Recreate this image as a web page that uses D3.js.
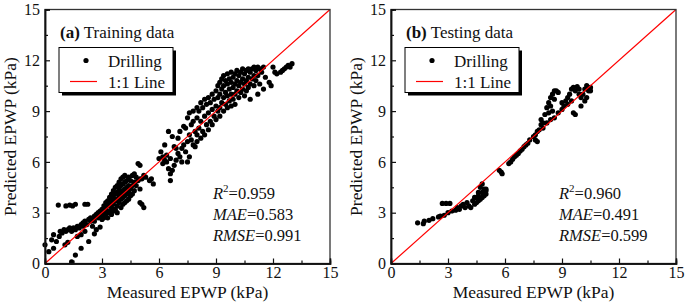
<!DOCTYPE html>
<html>
<head>
<meta charset="utf-8">
<script src="https://cdn.jsdelivr.net/npm/d3@7"></script>
<style>
  body { margin: 0; background: #fff; }
  svg text { font-family: "Liberation Serif", "Times New Roman", Times, serif; fill: #111; }
</style>
</head>
<body>
<div id="chart"></div>
<script>
// measured vs predicted EPWP (kPa)
const trainingData = [
  [0,1.1],[0.2,0.7],[0.35,1.4],[0.45,1.7],[0.45,0.9],[0.6,1.3],[0.75,1.6],[0.8,1.9],[0.9,1.8],[1.0,2.0],
  [1.1,1.9],[1.05,1.1],[1.2,1.25],[1.4,0.1],[1.6,0.5],[1.9,0.9],[2.3,1.3],[2.6,1.75],[2.7,2.0],[2.9,2.15],
  [0.7,3.45],[1.1,3.4],[1.3,3.45],[1.45,3.4],[1.6,3.5],[2.1,3.5],[2.25,3.5],
  [1.2,2.0],[1.3,2.1],[1.4,1.9],[1.5,2.1],[1.6,2.0],[1.7,2.2],[1.8,2.1],[1.9,2.3],[2.0,2.2],[2.0,2.4],
  [2.1,2.5],[2.2,2.3],[2.3,2.6],[2.4,2.5],[2.4,2.7],[2.5,2.6],[2.6,2.8],[2.6,2.5],[2.7,2.9],[2.8,2.7],
  [2.8,3.0],[2.9,3.1],[2.9,2.8],[1.7,1.6],[2.1,1.9],[1.9,1.7],[2.5,2.2],
  [3.0,3.2],[3.0,2.9],[3.0,2.6],[3.1,3.4],[3.1,3.0],[3.1,2.7],[3.2,3.6],[3.2,3.2],[3.2,2.9],[3.3,3.7],
  [3.3,3.4],[3.3,3.0],[3.3,2.7],[3.4,3.9],[3.4,3.5],[3.4,3.1],[3.5,4.1],[3.5,3.7],[3.5,3.3],[3.5,2.9],
  [3.6,4.3],[3.6,3.9],[3.6,3.5],[3.6,3.1],[3.7,4.5],[3.7,4.1],[3.7,3.7],[3.7,3.2],[3.8,4.6],[3.8,4.2],
  [3.8,3.8],[3.8,3.4],[3.8,3.0],[3.9,4.8],[3.9,4.4],[3.9,4.0],[3.9,3.6],[4.0,5.0],[4.0,4.6],[4.0,4.2],
  [4.0,3.8],[4.0,3.3],[4.1,5.1],[4.1,4.7],[4.1,4.3],[4.1,3.9],[4.1,3.5],[4.2,5.2],[4.2,4.8],[4.2,4.4],
  [4.2,4.0],[4.2,3.6],[4.3,4.9],[4.3,4.5],[4.3,4.1],[4.3,3.7],[4.4,5.1],[4.4,4.6],[4.4,4.2],[4.4,3.8],
  [4.5,4.9],[4.5,4.4],[4.5,4.0],[4.6,5.2],[4.6,4.6],[4.6,4.1],[4.7,5.3],[4.7,4.8],[4.7,4.3],[4.8,5.1],
  [4.8,4.6],[4.9,5.9],[4.9,4.9],[5.0,5.8],[5.0,5.0],[5.0,4.4],[5.0,3.6],[5.1,3.5],[5.2,3.3],[5.1,5.0],[5.2,5.2],
  [5.3,5.1],[5.5,4.9],[5.6,5.0],[5.7,4.7],[6.0,6.2],[6.1,6.6],[6.2,6.3],[6.2,5.9],[6.3,6.1],[6.3,7.0],
  [6.4,6.0],[6.4,6.4],[6.5,5.6],[6.5,7.8],[6.6,5.3],[6.6,4.9],[6.6,6.2],[6.7,7.5],[6.7,5.5],[6.8,6.9],
  [6.8,5.8],[6.9,6.8],[6.9,6.1],
  [7.0,6.5],[7.0,7.4],[7.1,6.3],[7.1,7.8],[7.2,6.0],[7.2,6.8],[7.3,7.0],[7.3,8.1],[7.4,8.0],[7.4,6.6],
  [7.5,8.6],[7.5,6.0],[7.5,7.2],[7.6,6.3],[7.6,8.9],[7.6,7.6],[7.7,7.3],[7.7,8.2],[7.8,9.0],[7.8,8.4],
  [7.8,7.0],[7.9,6.9],[7.9,7.8],[8.0,7.2],[8.0,9.2],[8.0,8.6],[8.0,7.6],
  [8.1,9.0],[8.1,8.0],[8.2,9.5],[8.2,7.4],[8.2,8.4],[8.3,9.2],[8.3,7.8],[8.4,9.7],[8.4,8.7],[8.4,7.6],
  [8.5,9.4],[8.5,8.2],[8.6,9.8],[8.6,8.9],[8.6,7.9],[8.7,9.5],[8.7,8.4],[8.8,10.0],[8.8,9.1],[8.8,8.2],
  [8.9,9.7],[8.9,8.7],[9.0,10.2],[9.0,9.3],[9.0,8.5],
  [9.1,10.5],[9.1,9.8],[9.1,9.0],[9.2,10.7],[9.2,10.0],[9.2,9.2],[9.2,8.7],[9.3,10.9],[9.3,10.3],[9.3,9.5],
  [9.4,11.1],[9.4,10.5],[9.4,9.8],[9.4,9.0],[9.5,10.8],[9.5,10.1],[9.5,9.4],[9.6,11.2],[9.6,10.6],[9.6,9.9],
  [9.6,9.2],[9.7,10.9],[9.7,10.3],[9.7,9.6],[9.8,11.3],[9.8,10.7],[9.8,10.0],[9.8,9.3],[9.9,11.0],[9.9,10.4],
  [9.9,9.7],[10.0,11.2],[10.0,10.6],[10.0,10.0],[10.0,9.4],
  [10.1,11.4],[10.1,10.8],[10.1,10.2],[10.2,11.1],[10.2,10.5],[10.2,9.8],[10.3,11.3],[10.3,10.7],[10.3,10.1],
  [10.4,11.5],[10.4,10.9],[10.4,10.3],[10.5,11.2],[10.5,10.6],[10.5,9.9],[10.6,11.4],[10.6,10.8],[10.6,10.2],
  [10.7,11.5],[10.7,11.0],[10.7,10.4],[10.8,11.3],[10.8,10.6],[10.8,9.7],[10.9,11.5],[10.9,10.9],[11.0,11.6],
  [11.0,11.1],[11.0,10.5],[11.1,11.4],[11.1,10.8],[11.2,11.6],[11.2,10.0],[11.2,11.1],[11.3,11.5],[11.3,10.6],
  [11.4,11.3],[11.5,11.6],[11.5,10.3],
  [11.6,11.0],[11.8,10.7],[11.9,10.5],[12.0,11.6],[12.1,11.3],[12.2,11.2],[12.4,11.3],[12.5,11.4],[12.6,11.5],
  [12.7,11.6],[12.8,11.7],[12.9,11.6],[13.0,11.8]
];

const testingData = [
  [1.4,2.4],[1.7,2.35],[1.75,2.5],[2.0,2.55],[2.2,2.65],[2.5,2.75],[2.6,2.8],[2.8,2.85],[3.0,3.0],[3.2,3.1],
  [3.4,3.15],[2.7,3.55],[2.9,3.55],[3.1,3.55],
  [3.5,3.3],[3.6,3.2],[3.7,3.4],[3.8,3.5],[3.9,3.3],[4.0,3.6],[4.1,3.4],[4.2,3.3],[4.3,3.7],[4.4,3.9],
  [4.4,3.5],[4.5,3.6],[4.6,4.2],[4.7,4.5],[4.8,4.7],[4.9,4.4],[5.0,4.3],[5.0,4.1],[4.8,3.9],[4.7,3.8],
  [4.6,4.0],[4.9,4.0],[5.0,4.4],[4.8,4.2],[4.6,3.7],[4.5,3.9],
  [5.7,5.5],[5.8,5.4],[5.85,5.3],
  [6.2,5.9],[6.3,6.0],[6.4,6.15],[6.5,6.3],[6.6,6.4],[6.7,6.5],[6.8,6.65],[6.9,6.75],[7.0,6.9],[7.2,7.1],
  [7.3,7.3],[7.1,7.0],
  [7.5,7.5],[7.6,7.6],[7.7,7.2],[7.8,7.9],[7.9,8.2],[7.9,8.5],[8.0,8.3],[7.7,7.8],[7.6,7.3],[8.0,8.0],
  [8.1,8.8],[8.2,9.2],[8.3,9.5],[8.4,9.8],[8.5,10.0],[8.6,10.2],[8.7,10.2],[8.8,10.1],[8.6,9.7],[8.4,9.3],
  [8.2,8.3],[8.4,8.5],[8.6,8.6],[8.8,8.9],[9.0,9.1],[8.3,8.9],[8.5,9.0],
  [9.0,9.5],[9.1,9.3],[9.2,9.6],[9.3,9.8],[9.4,10.0],[9.5,10.3],[9.6,10.4],[9.7,10.2],[9.8,10.45],[9.9,10.3],
  [10.0,9.8],[10.1,10.0],[10.2,10.3],[10.3,10.5],[10.4,10.2],[10.5,10.4],[9.6,8.9],[9.7,8.8],[10.0,9.3],
  [10.2,9.6],[10.3,9.8],[9.5,9.6],[9.3,9.4],[9.9,10.0],[10.5,10.2]
];

const majorTicks = [0, 3, 6, 9, 12, 15];
const minorTicks = [1.5, 4.5, 7.5, 10.5, 13.5];

const panels = [
  { left: 45, title: "(a)", subtitle: " Training data", data: trainingData,
    stats: ["0.959", "0.583", "0.991"] },
  { left: 391, title: "(b)", subtitle: " Testing data", data: testingData,
    stats: ["0.960", "0.491", "0.599"] }
];

const width = 685, height = 307;
const plotW = 285, plotH = 254, plotTop = 9.5;

const svg = d3.select("#chart").append("svg")
  .attr("width", width)
  .attr("height", height);

panels.forEach(p => {
  let g = svg.append("g")
    .attr("transform", `translate(${p.left},${plotTop})`);

  let x = d3.scaleLinear().domain([0, 15]).range([0, plotW]);
  let y = d3.scaleLinear().domain([0, 15]).range([plotH, 0]);

  // points
  g.append("g").selectAll("circle")
    .data(p.data)
    .enter()
    .append("circle")
    .attr("cx", d => x(d[0]))
    .attr("cy", d => y(d[1]))
    .attr("r", 2.6)
    .attr("fill", "#000");

  // 1:1 line
  g.append("line")
    .attr("x1", x(0)).attr("y1", y(0))
    .attr("x2", x(15)).attr("y2", y(15))
    .attr("stroke", "#ff0000")
    .attr("stroke-width", 1.2);

  // frame
  g.append("rect")
    .attr("width", plotW).attr("height", plotH)
    .attr("fill", "none")
    .attr("stroke", "#333")
    .attr("stroke-width", 1.3);

  // minor ticks
  let xMinor = d3.axisBottom(x).tickValues(minorTicks).tickSize(-3).tickFormat("");
  let yMinor = d3.axisLeft(y).tickValues(minorTicks).tickSize(-3).tickFormat("");
  g.append("g").attr("transform", `translate(0,${plotH})`).call(xMinor);
  g.append("g").call(yMinor);

  let xAxis = d3.axisBottom(x).tickValues(majorTicks).tickSize(-5).tickPadding(3).tickFormat(d3.format("d"));
  let yAxis = d3.axisLeft(y).tickValues(majorTicks).tickSize(-5).tickPadding(5).tickFormat(d3.format("d"));

  g.append("g").attr("class", "x-axis")
    .attr("transform", `translate(0,${plotH})`)
    .call(xAxis);
  g.append("g").attr("class", "y-axis")
    .call(yAxis);

  g.selectAll(".tick line").attr("stroke", "#111").attr("stroke-width", 1.2);
  g.selectAll(".domain").attr("stroke", "#111").attr("stroke-width", 1.5);
  g.selectAll(".tick text")
    .style("font-size", "16px")
    .attr("fill", "#111");

  // axis titles
  g.append("text")
    .attr("x", plotW / 2)
    .attr("y", plotH + 34)
    .attr("text-anchor", "middle")
    .style("font-size", "17.5px")
    .text("Measured EPWP (kPa)");

  g.append("text")
    .attr("transform", `translate(${-29},${plotH / 2}) rotate(-90)`)
    .attr("text-anchor", "middle")
    .style("font-size", "17.5px")
    .text("Predicted EPWP (kPa)");

  // panel title
  let t = g.append("text")
    .attr("x", 15)
    .attr("y", 28)
    .style("font-size", "17px");
  t.append("tspan").style("font-weight", "bold").text(p.title);
  t.append("tspan").text(p.subtitle);

  // legend with drop shadow
  let lg = g.append("g").attr("transform", "translate(14,38)");
  lg.append("rect")
    .attr("x", 3).attr("y", 3)
    .attr("width", 114).attr("height", 45)
    .attr("fill", "#000");
  lg.append("rect")
    .attr("width", 114).attr("height", 45)
    .attr("fill", "#fff")
    .attr("stroke", "#000")
    .attr("stroke-width", 1);
  lg.append("circle")
    .attr("cx", 27).attr("cy", 13)
    .attr("r", 2.6)
    .attr("fill", "#000");
  lg.append("text")
    .attr("x", 49).attr("y", 19)
    .style("font-size", "17px")
    .text("Drilling");
  lg.append("line")
    .attr("x1", 11).attr("x2", 38)
    .attr("y1", 34).attr("y2", 34)
    .attr("stroke", "#ff0000")
    .attr("stroke-width", 1.2);
  lg.append("text")
    .attr("x", 49).attr("y", 40)
    .style("font-size", "17px")
    .text("1:1 Line");

  // statistics
  let st = g.append("g").attr("transform", "translate(168,0)");
  let labels = ["R", "MAE", "RMSE"];
  labels.forEach((lab, i) => {
    let tx = st.append("text")
      .attr("x", 0)
      .attr("y", 189 + i * 21)
      .style("font-size", "16.5px");
    tx.append("tspan").style("font-style", "italic").text(lab);
    if (i === 0) {
      tx.append("tspan").attr("dy", -7).style("font-size", "11px").text("2");
      tx.append("tspan").attr("dy", 7).text("=" + p.stats[i]);
    } else {
      tx.append("tspan").text("=" + p.stats[i]);
    }
  });
});
</script>
</body>
</html>
